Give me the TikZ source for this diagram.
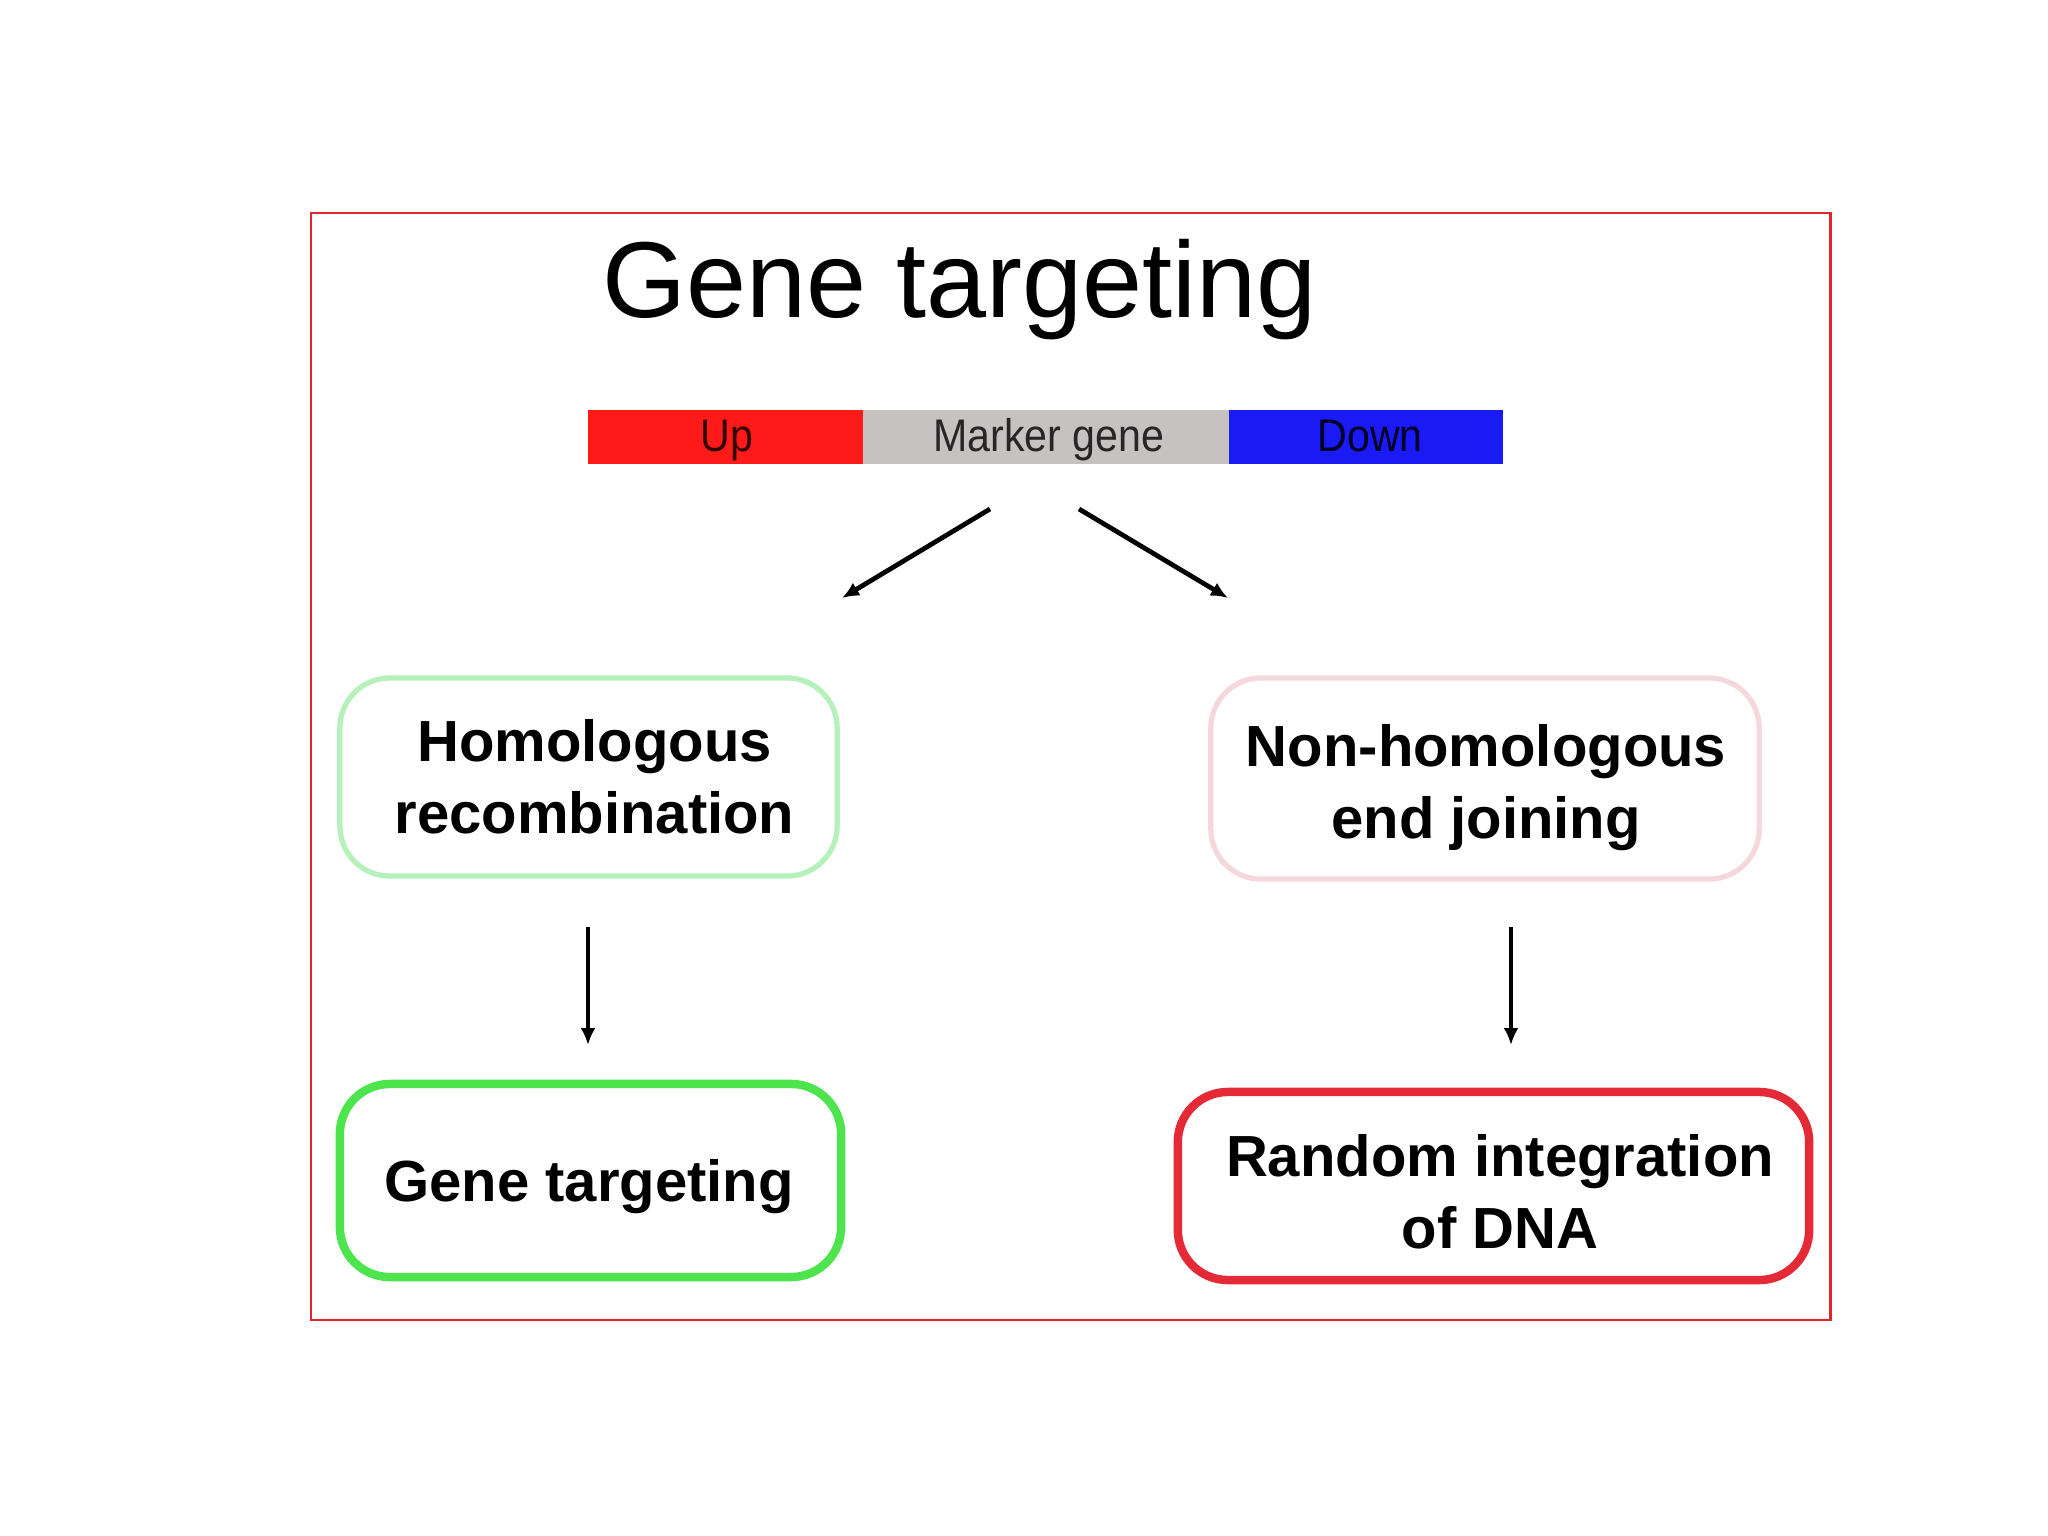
\documentclass[tikz,border=0pt]{standalone}
\usepackage{fontspec}
\setmainfont{Liberation Sans}
\usetikzlibrary{arrows.meta,calc}
\definecolor{framered}{HTML}{E0262B}
\definecolor{upred}{HTML}{FF1A1A}
\definecolor{markgrey}{HTML}{C6C2C2}
\definecolor{downblue}{HTML}{1A1AF5}
\definecolor{lightgreen}{HTML}{B6F0BA}
\definecolor{lightpink}{HTML}{F5D8DC}
\definecolor{boxgreen}{HTML}{4EE44E}
\definecolor{boxred}{HTML}{E42A36}
\tikzset{
  seg/.style={inner sep=0pt, minimum height=0.54cm},
  segtext/.style={anchor=base, inner sep=0pt, font=\fontsize{13}{13}\selectfont},
  procbox/.style={rounded corners=0.5cm, inner sep=0pt},
  proctext/.style={align=center, inner sep=0pt,
    font=\bfseries\fontsize{16.5}{20.5}\selectfont},
  arr/.style={line width=1.35pt, -{Latex[length=0.17cm,width=0.15cm]}},
}
\begin{document}
\begin{tikzpicture}[x=0.01cm,y=-0.01cm]
\useasboundingbox (0,0) rectangle (2048,1536);
\fill[white] (0,0) rectangle (2048,1536);
\node[draw=framered, line width=0.6pt, minimum width=15.19cm, minimum height=11.07cm, inner sep=0pt] (frame) at (1070.5,766.5) {};
\node[anchor=base, font=\fontsize{30.7}{30.7}\selectfont] (title) at (960,317) {Gene targeting};
% bar
\node[seg, fill=upred, minimum width=2.75cm] (up) at (725.5,437) {};
\node[seg, fill=markgrey, minimum width=3.66cm] (marker) at (1046,437) {};
\node[seg, fill=downblue, minimum width=2.74cm] (down) at (1366,437) {};
\node[segtext, text=black!80!red] (uptext) at (727,451) {\scalebox{0.9}[1]{Up}};
\node[segtext, text=black!85] (markertext) at (1049,451) {\scalebox{0.9}[1]{Marker gene}};
\node[segtext, text=black!85!blue] (downtext) at (1370,451) {\scalebox{0.9}[1]{Down}};
% boxes
\node[procbox, draw=lightgreen, line width=1.5pt, minimum width=4.97cm, minimum height=1.98cm] (hr) at (588.5,777) {};
\node[procbox, draw=lightpink, line width=1.5pt, minimum width=5.48cm, minimum height=2.01cm] (nhej) at (1485,778.5) {};
\node[procbox, draw=boxgreen, line width=2.4pt, minimum width=5.01cm, minimum height=1.93cm] (gt) at (590.5,1180.5) {};
\node[procbox, draw=boxred, line width=2.4pt, minimum width=6.31cm, minimum height=1.88cm] (ri) at (1493.5,1186) {};
\node[proctext] (hrtext) at (594.5,777) {Homologous\\recombination};
\node[proctext] (nhejtext) at (1486,788) {Non-homologous\\end joining};
\node[proctext] (gttext) at (589,1187) {Gene targeting};
\node[proctext] (ritext) at (1500,1192) {Random integration\\of DNA};
% connector end points
\coordinate (l1) at (990,509);
\coordinate (l2) at (842,598);
\coordinate (r1) at (1079,509);
\coordinate (r2) at (1228,598);
\coordinate (d1) at (588,927);
\coordinate (d2) at (588,1045);
\coordinate (e1) at (1511,927);
\coordinate (e2) at (1511,1045);
\draw[arr] (l1) -- (l2);
\draw[arr] (r1) -- (r2);
\draw[arr, line width=1.2pt] (d1) -- (d2);
\draw[arr, line width=1.2pt] (e1) -- (e2);
\end{tikzpicture}
\end{document}
